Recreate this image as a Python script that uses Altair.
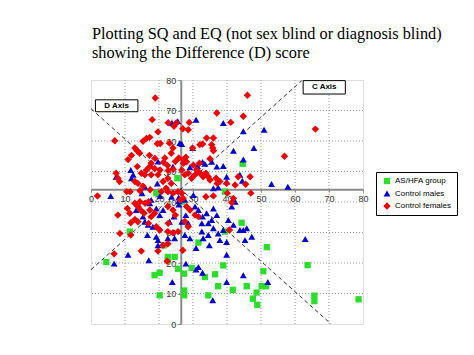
import altair as alt
import pandas as pd

# ---------------- data ----------------
groups = ["AS/HFA group", "Control males", "Control females"]

green_x = [44.6, 25.4, 19.2, 39.4, 26.7, 44.3, 39.4, 11.4, 31.6, 51.7, 38.9, 29.6, 27.4, 36.5,
           33.5, 50.7, 37.4, 41.7, 45.8, 27.4, 27.4, 34.5, 48.7, 50.2, 51.5, 47.6, 48.9, 4.5,
           18.7, 20.2, 20.2, 22.6, 22.6, 24.6, 25.6, 21.5, 63.7, 65.7, 65.7, 78.7]
green_y = [52.5, 47.8, 42.9, 43.4, 40.1, 33.2, 30.3, 30.3, 26.7, 25.2, 19.2, 18.4, 16.5, 16.3,
           15.4, 17.3, 12.4, 11.2, 12.4, 11.0, 9.4, 9.4, 10.3, 12.4, 12.4, 8.3, 6.3, 20.3,
           16.0, 16.8, 9.4, 22.0, 20.9, 22.0, 18.1, 25.8, 19.3, 9.3, 7.5, 8.1]

blue_x = [23.8, 25.5, 30.9, 38.9, 44.8, 50.9, 26.1, 26.7, 29.9, 41.9, 47.9, 32.8, 44.8, 19.7,
          5.8, 7.4, 11.7, 12.4, 11.9, 15.8, 19.5, 24.1, 15.0, 13.3, 17.3, 17.7, 15.3, 15.8,
          16.8, 18.2, 19.2, 21.2, 20.2, 23.1, 24.4, 16.6, 19.2, 19.7, 22.6, 24.6,
          29.1, 31.3, 33.5, 35.5, 37.0, 38.9, 39.9, 39.9, 43.8, 44.5, 53.1, 30.1, 27.6, 42.4,
          41.4, 30.6, 31.6, 34.0, 36.0, 37.0, 27.9, 32.8, 35.5, 34.5, 32.6, 40.4, 26.7, 28.6,
          41.9, 43.8, 44.8, 45.8, 36.0, 38.9, 37.4, 32.6, 33.0, 34.5, 29.1, 27.6, 45.3, 47.3,
          37.9, 25.8, 25.8, 25.8, 36.0, 37.4, 20.3, 23.7, 57.9, 63.0, 10.9, 6.8, 17.0, 19.7,
          23.9, 30.9, 34.8, 39.9, 39.9, 27.9, 31.6, 30.9, 32.8, 44.8, 52.0, 39.9, 35.8]
blue_y = [66.0, 66.5, 67.0, 65.9, 63.2, 63.7, 59.3, 59.0, 57.7, 56.8, 57.7, 53.1, 53.9, 53.3,
          42.0, 48.3, 50.5, 48.9, 47.8, 45.0, 46.1, 51.6, 42.9, 37.4, 39.6, 40.7, 35.2, 33.5,
          32.5, 31.9, 37.9, 37.4, 35.7, 33.5, 35.2, 29.2, 28.6, 27.5, 28.1, 28.1,
          51.4, 51.8, 52.5, 53.2, 51.6, 51.8, 46.7, 48.3, 48.9, 47.0, 45.9, 42.3, 40.7, 40.1,
          38.5, 38.5, 37.4, 36.3, 37.9, 35.7, 35.7, 35.2, 34.1, 33.0, 33.0, 34.1, 33.5, 33.0,
          32.5, 30.8, 30.8, 31.4, 31.4, 30.8, 29.7, 30.3, 28.1, 29.2, 28.1, 29.2, 27.5, 28.6,
          27.5, 41.5, 40.3, 39.2, 44.5, 44.8, 42.0, 41.7, 45.0, 27.9, 22.7, 19.8, 20.9, 25.8,
          13.8, 24.9, 25.8, 26.9, 22.7, 19.8, 18.7, 17.9, 16.8, 16.0, 13.8, 13.8, 7.8]

red_x = [18.9, 18.0, 7.0, 19.7, 16.3, 17.3, 15.3, 19.5, 12.9, 13.6, 14.3, 10.9, 11.9, 17.2,
         25.1, 24.4, 23.1, 24.1, 23.6, 25.8, 24.8, 21.7,
         46.0, 37.0, 44.8, 41.1, 28.9, 28.6, 27.0, 34.0, 36.0, 32.0, 32.8, 35.5, 35.8, 36.0,
         29.9, 27.9, 27.1, 35.0, 66.0, 56.9, 22.7, 21.3, 22.5, 20.3, 22.7, 24.2, 20.4, 18.8,
         1.9, 7.4, 7.9, 8.4, 13.6, 14.8, 15.8, 16.3, 17.7, 17.3, 18.7, 12.9, 13.8, 15.3, 21.2,
         22.6, 23.6, 22.1, 17.7, 19.7, 20.7, 22.6, 24.1, 25.6, 12.9, 13.8, 14.6, 15.6, 17.3,
         17.7, 18.7, 10.7, 11.4, 7.9, 11.7, 12.9, 13.8, 22.6, 24.1, 24.8, 19.2, 20.2, 11.7,
         22.6, 24.1, 25.6, 10.5, 11.5, 14.4, 17.4, 16.9, 15.9, 14.4, 16.9, 8.5, 22.7,
         26.7, 27.6, 28.6, 29.6, 31.1, 30.6, 32.1, 33.0, 33.8, 34.5, 35.0, 36.8, 37.1, 27.2,
         28.1, 30.1, 31.9, 37.9, 46.8, 42.4, 26.7, 27.1, 26.2, 36.0, 40.1, 47.0, 41.9, 41.4,
         28.1, 29.1, 30.6, 28.6, 40.7, 43.3, 45.5, 39.9, 33.8, 31.6, 27.6,
         6.8, 14.8, 19.7, 21.2, 22.6, 22.4, 27.0]
red_y = [74.1, 67.0, 60.1, 63.0, 60.8, 61.2, 59.9, 59.1, 57.7, 56.8, 56.0, 53.9, 55.3, 55.3,
         65.9, 64.8, 59.3, 57.7, 56.0, 54.4, 53.3, 54.4,
         75.0, 69.2, 68.1, 66.1, 66.1, 63.7, 64.0, 61.0, 61.0, 58.8, 59.0, 58.8, 57.7, 56.8,
         57.7, 54.7, 53.9, 54.2, 63.9, 55.0, 66.0, 53.0, 52.0, 50.5, 50.3, 50.7, 59.2, 54.3,
         42.0, 49.4, 47.8, 46.7, 51.6, 49.4, 48.9, 50.5, 52.7, 51.6, 51.0, 46.7, 46.1, 45.2, 46.7,
         47.8, 46.1, 44.5, 48.9, 48.9, 43.4, 43.4, 42.9, 43.4, 39.6, 38.5, 37.4, 36.3, 37.4,
         35.2, 36.3, 37.9, 36.3, 35.7, 33.2, 34.3, 33.5, 38.5, 37.4, 35.7, 31.9, 30.8, 29.2,
         30.3, 29.9, 30.3, 43.4, 43.4, 43.7, 44.0, 40.1, 39.6, 40.1, 33.0, 29.7, 33.0,
         50.5, 48.9, 49.4, 47.8, 50.5, 48.9, 49.4, 48.3, 49.4, 48.3, 47.2, 47.8, 46.1, 52.7,
         53.2, 52.1, 52.7, 46.7, 48.3, 45.6, 42.9, 41.2, 40.7, 42.0, 42.9, 42.9, 41.2, 39.8,
         38.5, 37.4, 35.7, 31.9, 30.8, 48.3, 45.8, 46.1, 41.7, 35.2, 33.6,
         23.0, 23.9, 23.9, 25.8, 26.3, 20.6, 24.2]

# axis crossing point (SQ / EQ means) and the C / D diagonals
cross_x, cross_y = 26.4, 44.2
diag_name = ["C Axis", "C Axis", "D Axis", "D Axis"]
diag_x = [0.0, 62.0, 0.0, 70.6]
diag_y = [17.8, 79.8, 70.6, 0.0]

grid_values = [10, 20, 30, 40, 50, 60, 70]
tick_values = [0, 10, 20, 30, 40, 50, 60, 70, 80]

box_label = ["D Axis", "C Axis"]
box_x1 = [1.3, 62.4]
box_x2 = [13.8, 74.8]
box_y1 = [69.6, 75.4]
box_y2 = [73.5, 79.8]

title_lines = ["Plotting SQ and EQ (not sex blind or diagnosis blind)",
               "showing the Difference (D) score"]

# ---------------- build tables ----------------
rows = []
for g, gx, gy in [(groups[0], green_x, green_y), (groups[1], blue_x, blue_y),
                  (groups[2], red_x, red_y)]:
    for a, b in zip(gx, gy):
        rows.append({"group": g, "SQ": a, "EQ": b})
pts = pd.DataFrame(rows)

diag = pd.DataFrame({"name": diag_name, "x": diag_x, "y": diag_y})
grid = pd.DataFrame({"v": grid_values})
boxes = pd.DataFrame({"label": box_label, "x1": box_x1, "x2": box_x2,
                      "y1": box_y1, "y2": box_y2})
boxes["xc"] = (boxes["x1"] + boxes["x2"]) / 2
boxes["yc"] = (boxes["y1"] + boxes["y2"]) / 2

W, H = 272, 244
xs = alt.Scale(domain=[0, 80], nice=False, zero=False)
ys = alt.Scale(domain=[0, 80], nice=False, zero=False)

axis_common = dict(values=tick_values, grid=False, domain=True, domainColor="#8a8a8a",
                   domainWidth=2, ticks=True, tickSize=3, tickColor="#8a8a8a",
                   labelFontSize=9, labelColor="#333333", labelFont="Liberation Sans",
                   labelFlush=False, labelOverlap=False, title=None, zindex=0)

x_axis = alt.Axis(orient="bottom", offset=-H * cross_y / 80, labelPadding=2, **axis_common)
y_axis = alt.Axis(orient="left", offset=-W * cross_x / 80, labelPadding=2, **axis_common)

X = lambda f: alt.X(f, scale=xs, axis=x_axis, title=None)
Y = lambda f: alt.Y(f, scale=ys, axis=y_axis, title=None)

vgrid = alt.Chart(grid).mark_rule(color="#9a9a9a", strokeDash=[1, 2], strokeWidth=1).encode(
    x=X("v:Q"))
hgrid = alt.Chart(grid).mark_rule(color="#9a9a9a", strokeDash=[1, 2], strokeWidth=1).encode(
    y=Y("v:Q"))

lines = alt.Chart(diag).mark_line(color="#333333", strokeDash=[4, 3], strokeWidth=1).encode(
    x=X("x:Q"), y=Y("y:Q"), detail="name:N")

colors = ["#2edc2e", "#0000cc", "#ee0000"]
shapes = ["square", "triangle-up", "diamond"]
sizes = [40, 55, 62]

points = alt.Chart(pts).mark_point(filled=True, opacity=1, strokeWidth=0).encode(
    x=X("SQ:Q"),
    y=Y("EQ:Q"),
    color=alt.Color("group:N", scale=alt.Scale(domain=groups, range=colors),
                    legend=alt.Legend(title=None, orient="none", legendX=285, legendY=92,
                                      strokeColor="black", fillColor="white", padding=5,
                                      labelFontSize=8, labelFont="Liberation Sans",
                                      labelColor="black", symbolSize=30, rowPadding=4.5,
                                      labelOffset=4, symbolOffset=2, symbolStrokeWidth=0,
                                      cornerRadius=0)),
    shape=alt.Shape("group:N", scale=alt.Scale(domain=groups, range=shapes)),
    size=alt.Size("group:N", scale=alt.Scale(domain=groups, range=sizes), legend=None),
)

box_rects = alt.Chart(boxes).mark_rect(fill="white", stroke="black", strokeWidth=1).encode(
    x=X("x1:Q"), x2="x2:Q", y=Y("y1:Q"), y2="y2:Q")
box_text = alt.Chart(boxes).mark_text(font="Liberation Sans", fontSize=8, fontWeight="bold",
                                      color="black").encode(
    x=X("xc:Q"), y=Y("yc:Q"), text="label:N")

chart = alt.layer(vgrid, hgrid, lines, points, box_rects, box_text).properties(
    width=W, height=H,
    autosize=alt.AutoSizeParams(type="none"),
    padding={"left": 91, "top": 80, "right": 111, "bottom": 31},
    title=alt.TitleParams(text=title_lines, anchor="start", orient="top", frame="group",
                          font="Liberation Serif", fontSize=16.3, fontWeight="normal",
                          color="black", lineHeight=19, offset=15, dx=1),
).configure_view(stroke="#9a9a9a", strokeWidth=1).configure(background="white")

chart.save("out.html", embed_options={"renderer": "svg", "actions": False})
